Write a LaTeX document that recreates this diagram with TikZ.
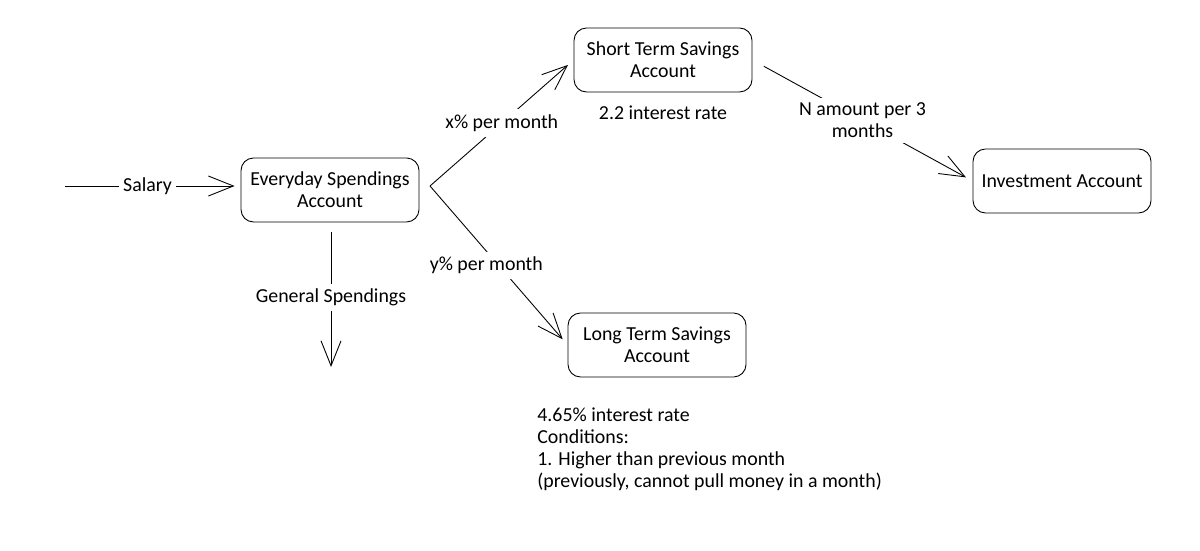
\documentclass[tikz,border=0pt]{standalone}
\usepackage{fontspec}
\setmainfont{Carlito}
\usetikzlibrary{arrows.meta, positioning}

\begin{document}
\begin{tikzpicture}[>={Straight Barb[length=5mm, width=4mm]}, font=\fontsize{11.3}{12.5}\selectfont,
    acct/.style={draw, rounded corners=0.25cm, minimum width=3.56cm, minimum height=1.28cm, align=center, line width=0.5pt},
    flow/.style={->, line width=0.5pt, shorten >=0.15cm},
    lbl/.style={fill=white, inner sep=3pt, align=center}]
    \useasboundingbox (0,0) rectangle (24,11);

    \node[acct] at (6.6, 7.2) (everyday) {Everyday Spendings\\Account};
    \node[acct] at (13.26, 9.8) (short) {Short Term Savings\\Account};
    \node[acct] at (21.24, 7.38) (invest) {Investment Account};
    \node[acct] at (13.14, 4.1) (long) {Long Term Savings\\Account};

    \coordinate (salary-in) at (1.3, 7.28);
    \coordinate (split) at (8.6, 7.28);
    \coordinate (spend-out) at (6.62, 3.66);

    \draw[flow, shorten >=0.12cm] (salary-in) -- (everyday.west |- salary-in)
      node[lbl, pos=.47, inner xsep=2.5pt] (salary-lbl) {Salary};
    \draw[flow, shorten >=0pt, shorten <=0.2cm] (everyday.south -| spend-out) -- (spend-out)
      node[lbl, pos=.52] (spend-lbl) {General Spendings};

    \draw[flow] (split) -- (short.west)
      node[lbl, pos=.5] (x-lbl) {x\% per month};
    \draw[flow] (split) -- (long.west)
      node[lbl, pos=.5, xshift=-0.25cm] (y-lbl) {y\% per month};
    \draw[flow, shorten <=0.26cm] (short.east) -- (invest.west)
      node[lbl, pos=.5] (n-lbl) {N amount per 3\\months};

    \node[below=0.15cm of short] (short-rate) {2.2 interest rate};
    \node[anchor=north west, align=left, inner sep=0pt] at (10.74, 2.85) (long-notes) {
      4.65\% interest rate\\
      Conditions:\\
      1. Higher than previous month\\
      (previously, cannot pull money in a month)
    };
\end{tikzpicture}
\end{document}
